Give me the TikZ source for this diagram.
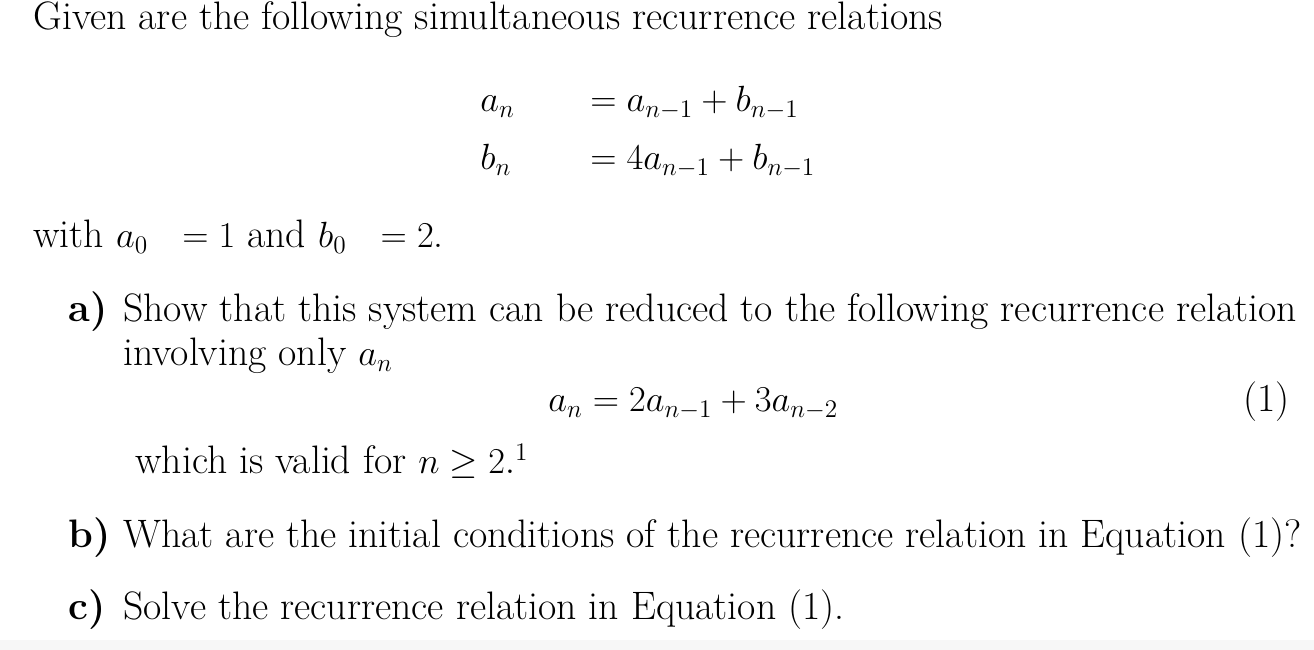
\documentclass[tikz,border=0pt]{standalone}
\usepackage{amsmath,amssymb}
\begin{document}
\begin{tikzpicture}[x=1cm,y=1cm]
\tikzset{txt/.style={anchor=base west,inner sep=0pt,font=\fontsize{22.6}{27}\selectfont},
 rtxt/.style={anchor=base east,inner sep=0pt,font=\fontsize{22.6}{27}\selectfont}}
\useasboundingbox (0,0) rectangle (26.28,13);
\fill[gray!6] (0,0) rectangle (26.28,0.2);
\node[txt] (l1) at (0.66,12.4) {Given are the following simultaneous recurrence relations};
\node[txt] (e1l) at (9.6,10.76) {$a_n$};
\node[txt] (e1r) at (11.8,10.76) {$= a_{n-1} + b_{n-1}$};
\node[txt] (e2l) at (9.6,9.6) {$b_n$};
\node[txt] (e2r) at (11.8,9.6) {$= 4a_{n-1} + b_{n-1}$};
\node[txt] (with) at (0.66,8.04) {with $a_0\ \ =1$ and $b_0\ \ =2$.};
\node[txt] (la) at (1.36,6.56) {\textbf{a)}};
\node[txt] (ta) at (2.46,6.56) {Show that this system can be reduced to the following recurrence relation};
\node[txt] (ta2) at (2.46,5.68) {involving only $a_n$};
\node[txt] (eq) at (10.96,4.76) {$a_n = 2a_{n-1} + 3a_{n-2}$};
\node[rtxt] (eqn) at (25.8,4.76) {(1)};
\node[txt] (valid) at (2.7,3.52) {which is valid for $n \geq 2.^1$};
\node[txt] (lb) at (1.36,2.04) {\textbf{b)}};
\node[txt] (tb) at (2.46,2.04) {What are the initial conditions of the recurrence relation in Equation (1)?};
\node[txt] (lc) at (1.36,0.6) {\textbf{c)}};
\node[txt] (tc) at (2.46,0.6) {Solve the recurrence relation in Equation (1).};
\end{tikzpicture}
\end{document}
